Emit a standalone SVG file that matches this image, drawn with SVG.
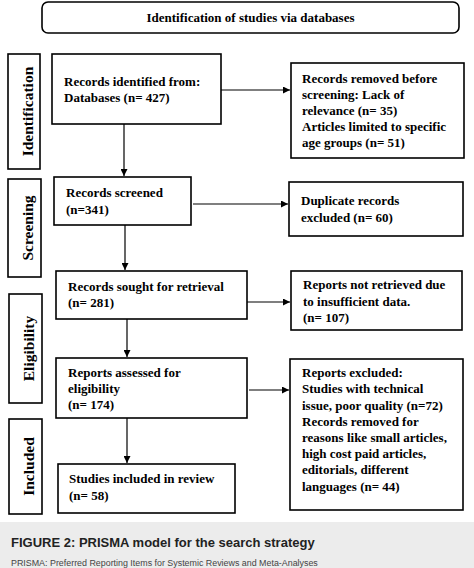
<svg xmlns="http://www.w3.org/2000/svg" width="474" height="568" viewBox="0 0 474 568">
<defs>
<marker id="ah" viewBox="0 0 10 10" refX="10" refY="5" markerWidth="7" markerHeight="7" markerUnits="userSpaceOnUse" orient="auto"><path d="M0,0 L10,5 L0,10 z" fill="#000"/></marker>
<style>
.box{fill:#fff;stroke:#000;stroke-width:1.6}
.t{font-family:"Liberation Serif","Times New Roman",serif;font-weight:bold;font-size:13px;fill:#000}
.side{font-family:"Liberation Serif","Times New Roman",serif;font-weight:bold;font-size:15.5px;fill:#000;text-anchor:middle}
.c{stroke:#000;stroke-width:1.2;fill:none;marker-end:url(#ah)}
</style>
</defs>
<rect x="0" y="0" width="474" height="568" fill="#fff"/>
<g id="title"><rect class="box" x="42" y="2" width="417" height="31" rx="6"/><text class="t" x="250.5" y="22" text-anchor="middle">Identification of studies via databases</text></g>
<g id="lab-identification"><rect class="box" x="8" y="54" width="32" height="115"/><text class="side" transform="translate(33,111.5) rotate(-90)">Identification</text></g>
<g id="lab-screening"><rect class="box" x="8" y="179" width="33" height="98"/><text class="side" transform="translate(33,228) rotate(-90)">Screening</text></g>
<g id="lab-eligibility"><rect class="box" x="9" y="294" width="33" height="109"/><text class="side" transform="translate(34,348.5) rotate(-90)">Eligibility</text></g>
<g id="lab-included"><rect class="box" x="9" y="419" width="33" height="95"/><text class="side" transform="translate(34,466.5) rotate(-90)">Included</text></g>
<g id="n1"><rect class="box" x="52" y="54" width="169" height="70"/><text class="t" x="64" y="86">Records identified from:</text><text class="t" x="64" y="102">Databases (n= 427)</text></g>
<g id="n2"><rect class="box" x="291" y="63" width="173" height="95"/><text class="t" x="302" y="83">Records removed before</text><text class="t" x="302" y="99">screening: Lack of</text><text class="t" x="302" y="115">relevance (n= 35)</text><text class="t" x="302" y="131">Articles limited to specific</text><text class="t" x="302" y="147">age groups (n= 51)</text></g>
<g id="n3"><rect class="box" x="54" y="177" width="137" height="48"/><text class="t" x="66" y="197">Records screened</text><text class="t" x="66" y="214">(n=341)</text></g>
<g id="n4"><rect class="box" x="289" y="182" width="174" height="54"/><text class="t" x="301" y="205">Duplicate records</text><text class="t" x="301" y="222">excluded (n= 60)</text></g>
<g id="n5"><rect class="box" x="56" y="271" width="191" height="48"/><text class="t" x="68" y="291">Records sought for retrieval</text><text class="t" x="68" y="307">(n= 281)</text></g>
<g id="n6"><rect class="box" x="291" y="271" width="171" height="59"/><text class="t" x="303" y="289">Reports not retrieved due</text><text class="t" x="303" y="306">to insufficient data.</text><text class="t" x="303" y="322">(n= 107)</text></g>
<g id="n7"><rect class="box" x="56" y="358" width="191" height="60"/><text class="t" x="68" y="377">Reports assessed for</text><text class="t" x="68" y="393">eligibility</text><text class="t" x="68" y="409">(n= 174)</text></g>
<g id="n8"><rect class="box" x="290" y="359" width="173" height="151"/><text class="t" x="302" y="377">Reports excluded:</text><text class="t" x="302" y="393">Studies with technical</text><text class="t" x="302" y="410">issue, poor quality (n=72)</text><text class="t" x="302" y="426">Records removed for</text><text class="t" x="302" y="442">reasons like small articles,</text><text class="t" x="302" y="458">high cost paid articles,</text><text class="t" x="302" y="474">editorials, different</text><text class="t" x="302" y="491">languages (n= 44)</text></g>
<g id="n9"><rect class="box" x="58" y="464" width="177" height="49"/><text class="t" x="69" y="483">Studies included in review</text><text class="t" x="69" y="500">(n= 58)</text></g>
<g id="connectors">
<line class="c" x1="221" y1="90" x2="290" y2="90"/>
<line class="c" x1="124" y1="124" x2="124" y2="176"/>
<line class="c" x1="193" y1="204" x2="288" y2="204"/>
<line class="c" x1="125" y1="225" x2="125" y2="270"/>
<line class="c" x1="247" y1="302" x2="290" y2="302"/>
<line class="c" x1="127" y1="319" x2="127" y2="357"/>
<line class="c" x1="249" y1="390" x2="289" y2="390"/>
<line class="c" x1="127" y1="418" x2="127" y2="463"/>
</g>
<g id="caption">
<rect x="0" y="522" width="474" height="46" fill="#ececec"/>
<text x="11" y="547" font-family="Liberation Sans, Arial, sans-serif" font-weight="bold" font-size="13" fill="#222">FIGURE 2: PRISMA model for the search strategy</text>
<text x="11" y="566" font-family="Liberation Sans, Arial, sans-serif" font-size="8.9" fill="#444">PRISMA: Preferred Reporting Items for Systemic Reviews and Meta-Analyses</text>
</g>
</svg>
